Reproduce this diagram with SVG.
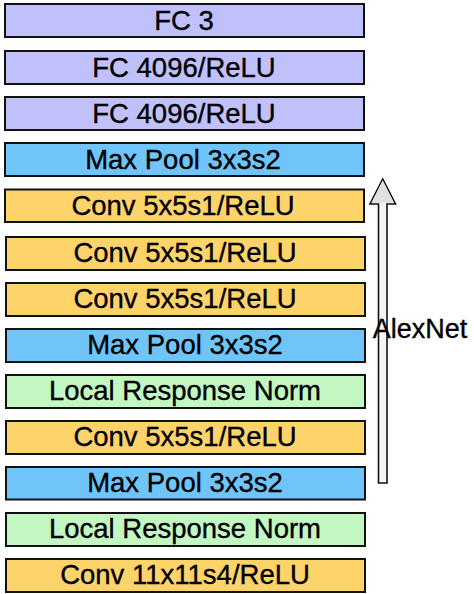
<svg xmlns="http://www.w3.org/2000/svg" width="474" height="594" viewBox="0 0 474 594">
<style>
rect.b{stroke:#111;stroke-width:2}
.fc{fill:#c0c0fb}
.mp{fill:#6fc4f9}
.cv{fill:#fed46a}
.ln{fill:#c2f7c2}
text{font-family:"Liberation Sans",Arial,sans-serif;font-size:27.5px;fill:#000;stroke:#000;stroke-width:0.35px;text-anchor:middle}
</style>
<rect width="474" height="594" fill="#fff"/>
<g id="fc3"><rect class="b fc" x="5" y="4" width="359" height="33"/><text x="184" y="30">FC 3</text></g>
<g id="fc4096b"><rect class="b fc" x="5" y="51" width="359" height="33"/><text x="184" y="77">FC 4096/ReLU</text></g>
<g id="fc4096a"><rect class="b fc" x="5" y="97" width="359" height="33"/><text x="184" y="123">FC 4096/ReLU</text></g>
<g id="maxpool3"><rect class="b mp" x="5" y="143" width="359" height="33"/><text x="183" y="168.5">Max Pool 3x3s2</text></g>
<g id="conv5c"><rect class="b cv" x="5" y="189.5" width="359" height="32.5"/><text x="183" y="215">Conv 5x5s1/ReLU</text></g>
<g id="conv5b"><rect class="b cv" x="6" y="237" width="359" height="33"/><text x="185" y="262">Conv 5x5s1/ReLU</text></g>
<g id="conv5a"><rect class="b cv" x="6" y="283" width="359" height="33"/><text x="185" y="308">Conv 5x5s1/ReLU</text></g>
<g id="maxpool2"><rect class="b mp" x="6" y="329" width="359" height="33"/><text x="185" y="354">Max Pool 3x3s2</text></g>
<g id="lrn2"><rect class="b ln" x="6" y="375" width="359" height="33"/><text x="185" y="400">Local Response Norm</text></g>
<g id="conv5"><rect class="b cv" x="6" y="421" width="359" height="33"/><text x="185" y="446">Conv 5x5s1/ReLU</text></g>
<g id="maxpool1"><rect class="b mp" x="6" y="467" width="359" height="32.5"/><text x="185" y="492">Max Pool 3x3s2</text></g>
<g id="lrn1"><rect class="b ln" x="6" y="513" width="359" height="33"/><text x="185" y="538">Local Response Norm</text></g>
<g id="conv11"><rect class="b cv" x="6" y="559" width="359" height="33"/><text x="185" y="584">Conv 11x11s4/ReLU</text></g>
<g id="connectors">
<path d="M378.5,483 L378.5,204 L370,204 L382.7,179 L395.5,204 L387,204 L387,483 Z" fill="#f6f6f6" stroke="#111" stroke-width="1.6" stroke-linejoin="miter"/>
<path d="M371.5,202.8 L382.7,180.5 L394,202.8 Z" fill="#e0e0e0"/>
<text x="420" y="338" style="font-size:27px">AlexNet</text>
</g>
</svg>
